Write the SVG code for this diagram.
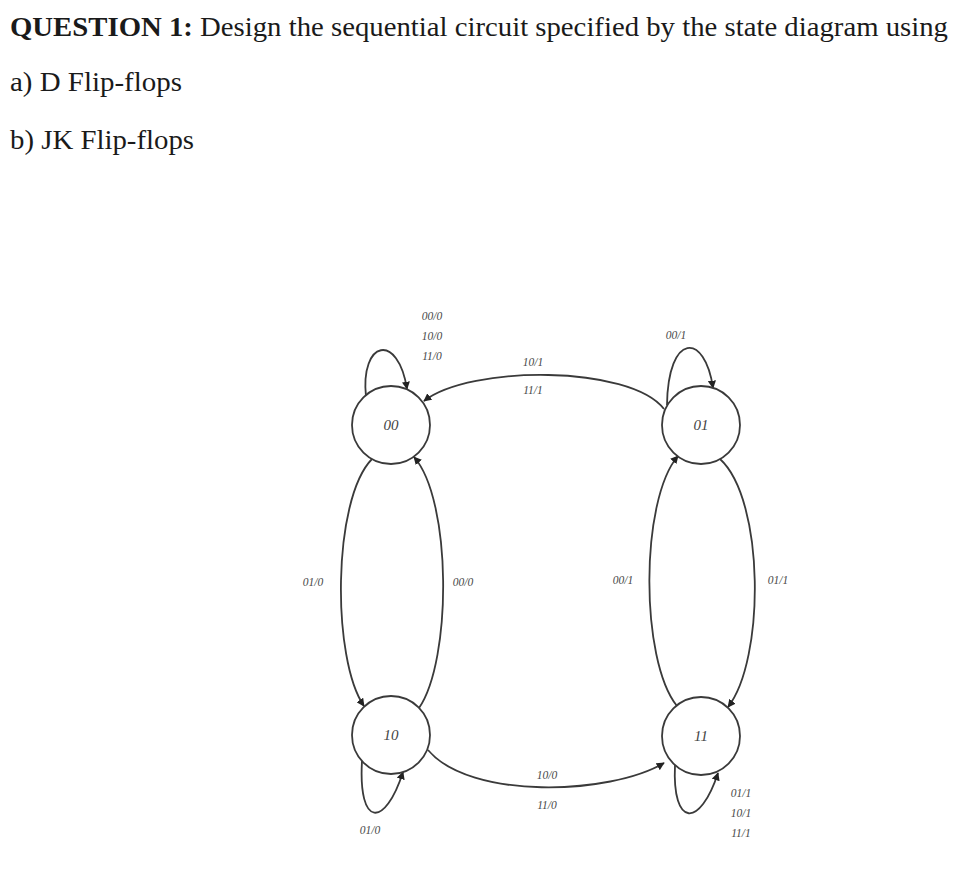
<svg xmlns="http://www.w3.org/2000/svg" width="975" height="880" viewBox="0 0 975 880">
<style>
.hdr{font-family:"Liberation Serif","Times New Roman",serif;font-size:28px;fill:#1a1a1a}
.node circle{fill:#fff;stroke:#3a3a3a;stroke-width:1.8}
.node text{font-family:"Liberation Serif",serif;font-style:italic;font-size:15px;fill:#444;text-anchor:middle}
.edge{fill:none;stroke:#3a3a3a;stroke-width:1.8;marker-end:url(#ah)}
.lbl{font-family:"Liberation Serif",serif;font-style:italic;font-size:11.5px;fill:#4a4a4a;text-anchor:middle}
</style>
<defs>
<marker id="ah" viewBox="0 0 10 10" refX="9" refY="5" markerWidth="4.5" markerHeight="4.5" orient="auto" markerUnits="strokeWidth">
<path d="M0,0 L10,5 L0,10 z" fill="#222"/>
</marker>
</defs>
<rect width="975" height="880" fill="#fff"/>
<text class="hdr" x="10" y="36" textLength="938" lengthAdjust="spacingAndGlyphs"><tspan font-weight="bold">QUESTION 1:</tspan> Design the sequential circuit specified by the state diagram using</text>
<text class="hdr" x="10" y="91" textLength="172" lengthAdjust="spacingAndGlyphs">a) D Flip-flops</text>
<text class="hdr" x="10" y="149" textLength="184" lengthAdjust="spacingAndGlyphs">b) JK Flip-flops</text>

<g id="connectors">
<path class="edge" d="M366 397 C360 340 398 332 407 389"/>
<path class="edge" d="M664 409 C630 365 470 365 424 401"/>
<path class="edge" d="M667 405 C668 332 705 332 713 388"/>
<path class="edge" d="M372 459 C332 500 332 660 364 706"/>
<path class="edge" d="M419 708 C452 660 452 500 414 457"/>
<path class="edge" d="M677 706 C640 660 640 500 678 456"/>
<path class="edge" d="M720 459 C765 500 765 660 728 707"/>
<path class="edge" d="M428 750 C470 800 610 795 664 763"/>
<path class="edge" d="M362 761 C358 828 385 828 403 772"/>
<path class="edge" d="M675 765 C672 828 700 828 718 773"/>
</g>

<g id="labels">
<text class="lbl" x="432" y="320">00/0</text>
<text class="lbl" x="432" y="340">10/0</text>
<text class="lbl" x="432" y="360">11/0</text>
<text class="lbl" x="533" y="366">10/1</text>
<text class="lbl" x="533" y="394">11/1</text>
<text class="lbl" x="676" y="339">00/1</text>
<text class="lbl" x="313" y="586">01/0</text>
<text class="lbl" x="463" y="586">00/0</text>
<text class="lbl" x="623" y="584">00/1</text>
<text class="lbl" x="778" y="584">01/1</text>
<text class="lbl" x="547" y="779">10/0</text>
<text class="lbl" x="547" y="809">11/0</text>
<text class="lbl" x="370" y="834">01/0</text>
<text class="lbl" x="741" y="797">01/1</text>
<text class="lbl" x="741" y="817">10/1</text>
<text class="lbl" x="741" y="837">11/1</text>
</g>

<g id="n00" class="node"><circle cx="391" cy="425" r="39"/><text x="391" y="430">00</text></g>
<g id="n01" class="node"><circle cx="701" cy="425" r="39"/><text x="701" y="430">01</text></g>
<g id="n10" class="node"><circle cx="391" cy="735" r="39"/><text x="391" y="740">10</text></g>
<g id="n11" class="node"><circle cx="701" cy="736" r="39"/><text x="701" y="741">11</text></g>
</svg>
